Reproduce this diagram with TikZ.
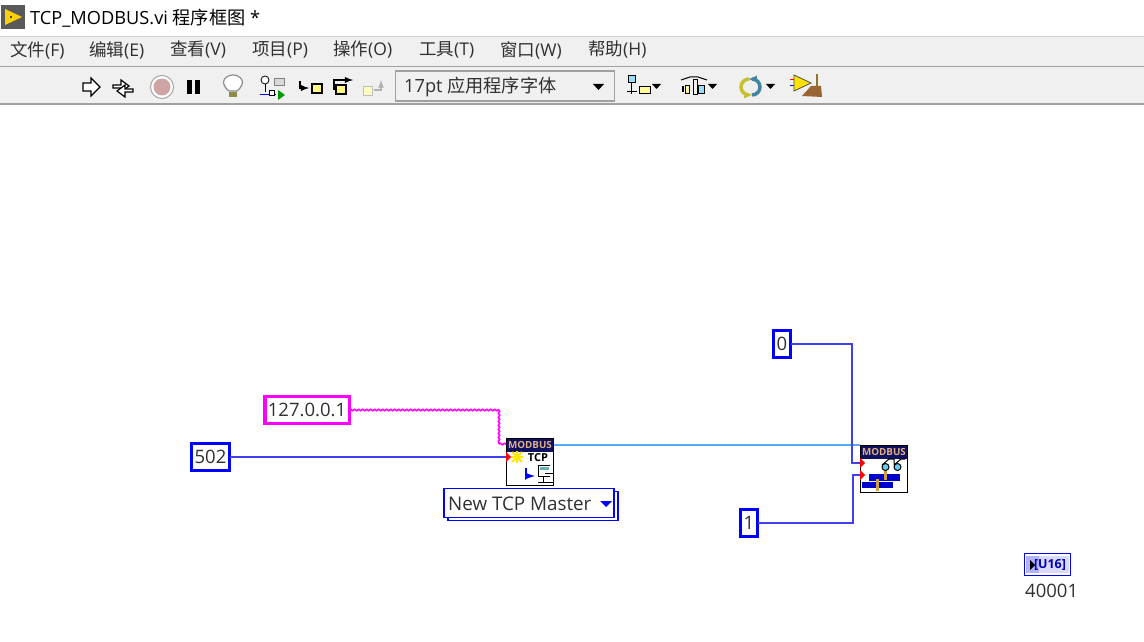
\documentclass[tikz,border=0pt]{standalone}
\usepackage{fontspec}
\setmainfont{Open Sans}
\newfontfamily\cjk{Noto Sans CJK SC}
\usetikzlibrary{decorations.pathmorphing}
\definecolor{barbg}{HTML}{F0F0F0}
\definecolor{barline}{HTML}{A0A0A0}
\definecolor{wireblue}{HTML}{4040F0}
\definecolor{boxblue}{HTML}{0000FF}
\definecolor{wirepink}{HTML}{FF00FF}
\definecolor{wirelight}{HTML}{55AAFF}
\definecolor{iconnavy}{HTML}{101060}
\definecolor{icontan}{HTML}{E0B080}
\definecolor{icongold}{HTML}{D0A040}
\definecolor{txtgray}{HTML}{303030}
\begin{document}
\begin{tikzpicture}[x=1pt, y=-1pt]
	\tikzset{menu/.style={font=\fontsize{17.5}{20}\selectfont, text=txtgray, anchor=west, inner sep=0}};
	\tikzset{const/.style={draw=boxblue, line width=3pt, fill=white, outer sep=0, inner sep=0, minimum height=27pt, font=\fontsize{18.5}{20}\selectfont, text=txtgray}};
	\tikzset{wire/.style={draw=wireblue, line width=1.6pt}};
	\tikzset{pinkwire/.style={draw=wirepink, line width=1.6pt, decorate, decoration={snake, amplitude=.7pt, segment length=4pt}}};
	\tikzset{vi/.style={draw=black, line width=1.2pt, fill=white, outer sep=0, minimum width=47pt, minimum height=47pt}};
	\tikzset{band/.style={fill=iconnavy, text=icontan, inner sep=0, outer sep=0, minimum width=46pt, minimum height=13pt, font=\fontsize{9.8}{10}\selectfont\bfseries}};
	\tikzset{port/.style={fill=red, draw=none}};
	\tikzset{tool/.style={draw=black, line width=1.2pt, fill=white}};
	\tikzset{drop/.style={fill=black, draw=none}};
	\useasboundingbox (0, 0) rectangle (1144, 642);
	\fill[white] (0, 0) rectangle (1144, 642);

	% title and bars
	\fill[barbg] (0, 37) rectangle (1144, 103);
	\draw[barline!50, line width=1pt] (0, 37) -- (1144, 37);
	\draw[barline, line width=1.5pt] (0, 66.5) -- (1144, 66.5);
	\draw[barline, line width=2pt] (0, 104) -- (1144, 104);
	\fill[black!65] (1, 5) rectangle (25, 29);
	\fill[yellow!70!orange] (5, 9) -- (22, 17) -- (5, 25) -- cycle;
	\fill[black!70] (10, 16) rectangle (12, 18);
	\node[menu, text=black, font=\fontsize{18.2}{20}\selectfont] (title) at (30, 18) {TCP\_MODBUS.vi {\cjk 程序框图} *};

	\node[menu] (m1) at (10, 50) {{\cjk 文件}(F)};
	\node[menu] (m2) at (89, 50) {{\cjk 编辑}(E)};
	\node[menu] (m3) at (170, 50) {{\cjk 查看}(V)};
	\node[menu] (m4) at (252, 50) {{\cjk 项目}(P)};
	\node[menu] (m5) at (333, 50) {{\cjk 操作}(O)};
	\node[menu] (m6) at (419, 50) {{\cjk 工具}(T)};
	\node[menu] (m7) at (500, 50) {{\cjk 窗口}(W)};
	\node[menu] (m8) at (588, 50) {{\cjk 帮助}(H)};

	% toolbar
	\draw[tool] (83, 83) -- (91, 83) -- (91, 78) -- (100, 87) -- (91, 96) -- (91, 91) -- (83, 91) -- cycle;
	\draw[tool] (113, 85) -- (121, 85) -- (121, 80) -- (129, 86) -- (121, 92) -- (121, 88) -- (113, 88) -- cycle;
	\draw[tool] (133, 89) -- (125, 89) -- (125, 85) -- (117, 91) -- (125, 97) -- (125, 92) -- (133, 92) -- cycle;
	\draw[black!35, fill=white, line width=1pt] (162, 87) circle (11.5);
	\fill[red!30!gray!55!white] (162, 87) circle (8.5);
	\fill[black] (187, 80) rectangle (192, 94);
	\fill[black] (195, 80) rectangle (200, 94);
	\draw[black!45, fill=white, line width=1.2pt] (229, 91) .. controls (218, 82) and (226, 75) .. (233, 75) .. controls (240, 75) and (248, 82) .. (237, 91) -- cycle;
	\fill[black!50!yellow] (229, 92) rectangle (237, 97);
	\draw[black, fill=white, line width=.8pt] (265, 80) circle (4);
	\draw[black!50, fill=black!15, line width=.6pt] (274, 78) rectangle (284, 85);
	\draw[black, line width=.8pt] (265, 84) -- (265, 92);
	\draw[blue, line width=1pt] (260, 95) -- (276, 95);
	\draw[black, fill=white, line width=.8pt] (269, 90) rectangle (274, 95);
	\fill[green!60!black] (278, 90) -- (285, 95) -- (278, 100) -- cycle;
	\draw[black, line width=1.8pt, -latex] (300, 81) -- (300, 88) -- (309, 88);
	\draw[black, fill=yellow!50, line width=1.2pt] (312, 84) rectangle (322, 93);
	\draw[black, fill=yellow!50, line width=1.2pt] (336, 85) rectangle (346, 94);
	\draw[black, line width=1.8pt, -latex] (334, 90) -- (334, 80) -- (353, 80);
	\draw[black!25, fill=yellow!25, line width=1pt] (363, 87) rectangle (372, 96);
	\draw[black!30, line width=1.6pt, -latex] (374, 90) -- (381, 90) -- (381, 80);

	\node[draw=barline, line width=1.2pt, fill=barbg, outer sep=0, minimum width=219pt, minimum height=30pt] (fontbox) at (505, 86) {};
	\node[menu, font=\fontsize{18.2}{20}\selectfont] (fontname) at (404, 87) {17pt {\cjk 应用程序字体}};
	\fill[drop] (593, 84) -- (604, 84) -- (598.5, 90) -- cycle;

	\draw[black, fill=cyan!40, line width=1pt] (628, 76) rectangle (635, 83);
	\draw[black, line width=1pt] (631.5, 83) -- (631.5, 94);
	\draw[black, line width=1pt] (627, 92) -- (637, 92);
	\draw[black, fill=yellow!40, line width=1pt] (639, 87) rectangle (650, 94);
	\fill[drop] (652, 84) -- (661, 84) -- (656.5, 89) -- cycle;
	\draw[black, line width=1pt] (681, 80) -- (690, 77) -- (698, 77) -- (707, 80);
	\fill[black] (682, 86) rectangle (684, 92);
	\draw[black, fill=yellow!40, line width=.8pt] (685, 85) rectangle (689, 93);
	\draw[black, line width=1pt] (693, 80) rectangle (697, 95);
	\draw[black, fill=cyan!40, line width=.8pt] (698, 85) rectangle (704, 93);
	\fill[drop] (708, 84) -- (717, 84) -- (712.5, 89) -- cycle;
	\draw[yellow!75!black, line width=3.5pt] (749, 79) arc (-90:-270:8);
	\draw[yellow!75!black, line width=2pt, -latex] (749, 95) -- (753, 95);
	\draw[cyan!60!black, line width=3.5pt] (752, 79) arc (-90:90:8);
	\draw[cyan!60!black, line width=2pt, -latex] (752, 79) -- (748, 79);
	\fill[drop] (766, 84) -- (775, 84) -- (770.5, 89) -- cycle;
	\draw[red, line width=1pt] (790, 80) -- (794, 80);
	\draw[blue, line width=1pt] (790, 86) -- (794, 86);
	\draw[black!70, fill=yellow!85!orange, line width=.8pt] (794, 75) -- (811, 83) -- (794, 91) -- cycle;
	\fill[brown!80!black] (802, 96) -- (811, 86) -- (821, 86) -- (822, 97) -- cycle;
	\draw[icongold!70!black, line width=2.5pt] (817, 74) -- (817, 88);

	% diagram
	\node[const, draw=wirepink, minimum width=85pt] (ip) at (307, 410) {127.0.0.1};
	\fill[wirepink] (263, 395) rectangle (267, 425);
	\node[const, minimum width=38pt] (port) at (210.5, 457) {502};
	\node[const, minimum width=17pt] (zero) at (782, 344) {0};
	\node[const, minimum width=17pt] (one) at (749, 523) {1};

	\node[vi] (tcp) at (530, 462) {};
	\node[vi] (read) at (884, 469) {};
	\node[band] (tcpband) at (530, 445) {MODBUS};
	\node[band] (readband) at (884, 452) {MODBUS};

	\coordinate (ipa) at (499, 410);
	\coordinate (ipb) at (499, 444);
	\coordinate (tcpa) at (506, 444);
	\coordinate (tcpb) at (506, 457);
	\coordinate (tcpc) at (554, 445);
	\coordinate (reada) at (860, 445);
	\coordinate (readb) at (860, 463);
	\coordinate (readc) at (860, 475);

	\draw[pinkwire] (ip.east) -- (ipa);
	\draw[pinkwire] (ipa) -- (ipb);
	\draw[pinkwire] (ipb) -- (tcpa);
	\draw[wire] (port.east) -- (tcpb);
	\draw[draw=wirelight, line width=1.4pt] (tcpc) -- (reada);
	\draw[wire] (zero.east) -- (852, 344) -- (852, 463) -- (readb);
	\draw[wire] (one.east) -- (853, 523) -- (853, 475) -- (readc);

	\fill[port] (506, 452) -- (511, 457) -- (506, 462) -- cycle;
	\fill[port] (860, 458) -- (865, 463) -- (860, 468) -- cycle;
	\fill[port] (860, 470) -- (865, 475) -- (860, 480) -- cycle;

	% tcp icon
	\draw[yellow!90!orange, line width=2pt] (511, 457) -- (523, 457) (517, 451) -- (517, 463) (512, 452) -- (522, 462) (522, 452) -- (512, 462);
	\node[inner sep=0, font=\fontsize{11}{12}\selectfont\bfseries] (tcptext) at (538, 458) {TCP};
	\draw[boxblue, line width=2.4pt, -latex] (526, 468) -- (526, 476) -- (535, 476);
	\fill[teal!60] (540, 467) rectangle (549, 470);
	\draw[black, line width=1pt] (538, 465) -- (550, 465) (538, 465) -- (538, 476) -- (550, 476) (538, 482) -- (553, 482) (543, 476) -- (543, 482) (545, 473) -- (553, 473);

	% read icon
	\fill[boxblue!80!black] (869, 474) rectangle (900, 480.5);
	\fill[boxblue!80!black] (862, 482) rectangle (893, 488);
	\draw[icongold, line width=3pt] (885, 469) -- (885, 480);
	\draw[icongold, line width=3pt] (877, 479) -- (877, 491);
	\draw[black, line width=1pt] (882, 465) -- (889, 459) -- (894, 459) -- (894, 465) (894, 465) -- (901, 459) -- (905, 459);
	\draw[black, fill=cyan!60, line width=1pt] (885.5, 467) circle (3.5);
	\draw[black, fill=cyan!60, line width=1pt] (897.5, 467) circle (3.5);

	\node[draw=boxblue, line width=1.4pt, fill=white, outer sep=0, minimum width=170pt, minimum height=29pt] (shadow) at (533, 506) {};
	\node[draw=boxblue, line width=1.4pt, fill=white, outer sep=0, minimum width=170pt, minimum height=29pt] (func) at (529, 503) {};
	\node[menu, font=\fontsize{18.8}{20}\selectfont] (functext) at (448, 504) {New TCP Master};
	\fill[boxblue] (600, 501) -- (612, 501) -- (606, 507) -- cycle;

	\node[draw=boxblue, line width=1.4pt, fill=white, outer sep=0, minimum width=46pt, minimum height=22pt] (regbox) at (1047.5, 564.5) {};
	\fill[blue!15] (1026, 556) rectangle (1069, 573);
	\fill[blue!30] (1026, 556) rectangle (1039, 573);
	\node[inner sep=0, text=boxblue!70!black, font=\fontsize{12.5}{12}\selectfont\bfseries] (regtext) at (1050, 565) {[U16]};
	\fill[black] (1030, 560) -- (1035, 565) -- (1030, 570) -- cycle;
	\node[menu, font=\fontsize{18.5}{20}\selectfont] (reglabel) at (1025, 591) {40001};
\end{tikzpicture}
\end{document}
